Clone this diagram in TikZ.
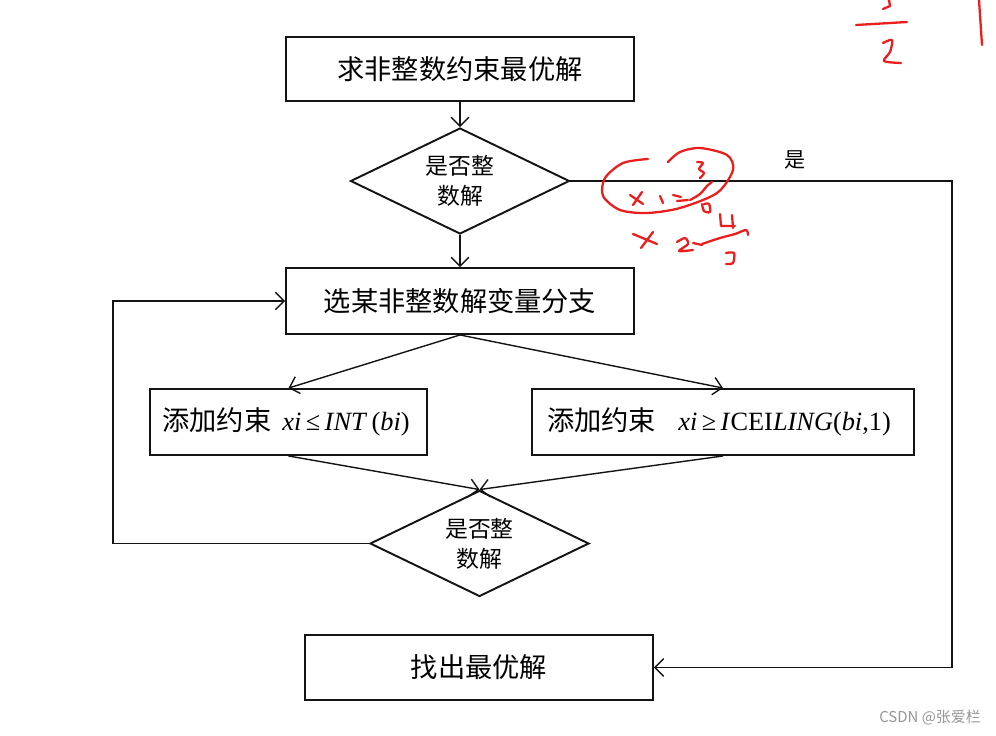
\documentclass[tikz,border=0pt]{standalone}
\usepackage{fontspec}
\usetikzlibrary{arrows.meta,shapes.geometric}
\newfontfamily\cjk{Noto Sans CJK SC}
\newfontfamily\tnr{Liberation Serif}
\definecolor{ink}{RGB}{20,20,20}
\definecolor{pen}{RGB}{235,30,30}
\definecolor{faint}{RGB}{150,150,150}
\tikzset{>={Straight Barb[length=5pt,width=10pt]}}

\begin{document}
\begin{tikzpicture}[x=0.02cm,y=-0.02cm,
  box/.style={draw=ink,line width=1.1pt,rectangle,inner sep=0pt,
    font=\cjk\fontsize{15.5}{18}\selectfont,minimum height=1.32cm},
  ask/.style={draw=ink,line width=1.1pt,diamond,aspect=2.07,inner sep=0pt,
    minimum width=4.38cm,minimum height=2.12cm,align=center,
    font=\cjk\fontsize{13}{17}\selectfont},
  link/.style={->,ink,line width=0.8pt},
  scrawl/.style={pen,line width=1.3pt,line cap=round,line join=round}]
  \useasboundingbox (0,0) rectangle (996,736);

  % Main column
  \node[box,minimum width=6.96cm,minimum height=1.28cm] (solve) at (460,69)
    {求非整数约束最优解};
  \node[ask] (test1) at (460,181) {是否整\\数解};
  \node[box,minimum width=6.96cm] (branch) at (460,301)
    {选某非整数解变量分支};

  % Two branches
  \node[box,minimum width=5.54cm,text width=5.04cm,align=left,inner xsep=0.25cm]
    (lower) at (288.5,422)
    {\mbox{添加约束\hspace{0.22cm}{\tnr\fontsize{15}{18}\selectfont\textit{xi}\,≤\,\textit{INT}\,(\textit{bi})}}};
  \node[box,minimum width=7.64cm,text width=7.04cm,align=left,inner xsep=0.3cm]
    (upper) at (723,422)
    {添加约束\hspace{0.45cm}{\tnr\fontsize{15}{18}\selectfont\textit{xi}\,≥\,\textit{I}CEI\textit{LING}(\textit{bi},1)}};

  \node[ask] (test2) at (479.5,543.5) {是否整\\数解};
  \node[box,minimum width=6.96cm,minimum height=1.3cm] (best) at (479,667.5)
    {找出最优解};

  % Connectors
  \draw[link] (solve.south) -- (test1.north);
  \draw[link] (test1.south) -- (branch.north);
  \draw[link] (branch.south) -- (lower.north);
  \draw[link] (branch.south) -- (upper.north);
  \draw[link] (lower.south) -- (test2.north);
  \draw[link] (upper.south) -- (test2.north);

  \coordinate (backL) at (113,543.5);
  \draw[link] (test2.west) -- (backL) |- (branch.west);

  \coordinate (yesR) at (952,181);
  \draw[link] (test1.east) -- (yesR) |- (best.east);
  \node[font=\cjk\fontsize{12}{14}\selectfont] (yes) at (795,160) {是};

  % Handwritten notes
  \draw[scrawl] plot[smooth] coordinates {(648,159) (623,163) (605,178)
    (603,196) (620,210) (647,213) (680,208) (717,193) (733,170) (727,155)
    (700,148) (680,152) (668,162)};
  \draw[scrawl] (630,195) -- (643,204);
  \draw[scrawl] (633,205) -- (642,192);
  \draw[scrawl] (660,196) -- (663,203);
  \draw[scrawl] (673,195) -- (681,197);
  \draw[scrawl] (677,201) -- (688,200);
  \draw[scrawl] plot[smooth] coordinates {(697,162) (703,163) (699,169)
    (704,173) (700,178)};
  \draw[scrawl] plot[smooth] coordinates {(690,200) (700,194) (707,186)
    (712,182)};
  \draw[scrawl] plot[smooth] coordinates {(702,204) (704,211) (710,212)
    (709,204) (704,204)};
  \draw[scrawl] (720,214) -- (721,226) -- (735,226);
  \draw[scrawl] (732,215) -- (733,228);
  \draw[scrawl] (633,234) -- (657,244);
  \draw[scrawl] (641,248) -- (653,232);
  \draw[scrawl] plot[smooth] coordinates {(677,242) (685,238) (688,244)
    (679,251) (693,250)};
  \draw[scrawl] (693,243) -- (702,245);
  \draw[scrawl] plot[smooth] coordinates {(702,244) (720,238) (735,234)
    (746,230) (748,235)};
  \draw[scrawl] plot[smooth] coordinates {(726,253) (734,253) (733,263)
    (726,264)};

  \draw[scrawl] (856,25) -- (907,22);
  \draw[scrawl] plot[smooth] coordinates {(883,43) (892,40) (890,52)
    (884,61) (901,63)};
  \draw[scrawl] (883,9) -- (890,6) -- (889,0);
  \draw[scrawl] (979,0) -- (982,45);

  % Watermark
  \node[faint,font=\cjk\fontsize{8.5}{10}\selectfont] (tag) at (930,718)
    {CSDN @张爱栏};
\end{tikzpicture}
\end{document}
